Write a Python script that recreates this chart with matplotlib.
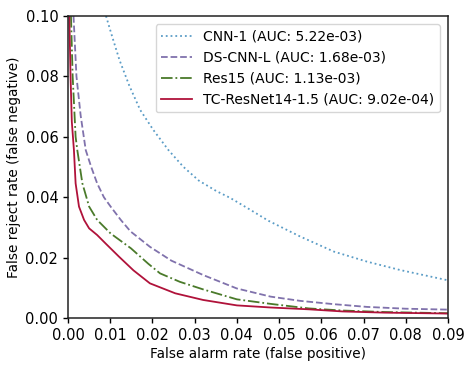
import numpy as np
import matplotlib
matplotlib.use('Agg')
import matplotlib.pyplot as plt

# curves (false alarm rate, false reject rate)
cnn_x = [0.0090, 0.0105, 0.0122, 0.0145, 0.0171, 0.0202, 0.0238, 0.0273, 0.0310,
         0.0352, 0.0384, 0.0430, 0.0475, 0.0550, 0.0630, 0.0708, 0.0787, 0.0900]
cnn_y = [0.100, 0.093, 0.0854, 0.077, 0.0689, 0.0623, 0.0556, 0.0501, 0.0455,
         0.0420, 0.0398, 0.0360, 0.0322, 0.0270, 0.0220, 0.0187, 0.0159, 0.0125]

ds_x = [0.0013, 0.0020, 0.0030, 0.0042, 0.0055, 0.0069, 0.0085, 0.0101, 0.0125,
        0.0148, 0.0194, 0.0245, 0.0321, 0.0400, 0.0480, 0.0550, 0.0630, 0.0708,
        0.0800, 0.0900]
ds_y = [0.100, 0.080, 0.067, 0.0556, 0.050, 0.0446, 0.040, 0.0369, 0.0325,
        0.0287, 0.0236, 0.019, 0.0142, 0.0098, 0.0071, 0.0057, 0.0046, 0.0037,
        0.0031, 0.0028]

res_x = [0.0007, 0.0011, 0.0018, 0.0022, 0.0034, 0.0050, 0.0069, 0.0101, 0.0149,
         0.0190, 0.0218, 0.0265, 0.0320, 0.0400, 0.0480, 0.0570, 0.0650, 0.0750,
         0.0900]
res_y = [0.100, 0.080, 0.060, 0.0556, 0.0446, 0.0369, 0.0325, 0.028, 0.0231,
         0.0180, 0.0148, 0.012, 0.0095, 0.0062, 0.0047, 0.0032, 0.0025, 0.0020,
         0.0016]

tc_x = [0.0003, 0.0006, 0.0009, 0.0014, 0.0018, 0.0026, 0.0038, 0.0050, 0.0069,
        0.0089, 0.0121, 0.0155, 0.0194, 0.0254, 0.0320, 0.0400, 0.0480, 0.0570,
        0.0650, 0.0750, 0.0900]
tc_y = [0.100, 0.080, 0.065, 0.0556, 0.0446, 0.0369, 0.0325, 0.0297, 0.0275,
        0.0247, 0.0203, 0.0158, 0.0115, 0.0082, 0.0060, 0.0042, 0.0035, 0.0029,
        0.0022, 0.0018, 0.0015]

labels = ['CNN-1 (AUC: 5.22e-03)', 'DS-CNN-L (AUC: 1.68e-03)',
          'Res15 (AUC: 1.13e-03)', 'TC-ResNet14-1.5 (AUC: 9.02e-04)']

fig = plt.figure(figsize=(4.74, 3.69), dpi=100)
ax = fig.add_axes([0.1435, 0.138, 0.8015, 0.8186])

ax.plot(cnn_x, cnn_y, color='#5a9cc6', linestyle=':', linewidth=1.3, label=labels[0])
ax.plot(ds_x, ds_y, color='#8072ac', linestyle='--', linewidth=1.3, label=labels[1])
ax.plot(res_x, res_y, color='#4a7a2a', linestyle='-.', linewidth=1.3, label=labels[2])
ax.plot(tc_x, tc_y, color='#b0123a', linestyle='-', linewidth=1.3, label=labels[3])

ax.set_xlim(0, 0.09)
ax.set_ylim(0, 0.10)
ax.set_xticks(np.arange(0, 0.0901, 0.01))
ax.set_yticks(np.arange(0, 0.1001, 0.02))
ax.xaxis.set_major_formatter(matplotlib.ticker.FormatStrFormatter('%.2f'))
ax.yaxis.set_major_formatter(matplotlib.ticker.FormatStrFormatter('%.2f'))
ax.tick_params(labelsize=10.5, length=3.5, width=1)
for s in ax.spines.values():
    s.set_linewidth(1.1)
    s.set_color('#222222')

ax.set_xlabel('False alarm rate (false positive)', fontsize=9.8, labelpad=3)
ax.set_ylabel('False reject rate (false negative)', fontsize=9.8, labelpad=3)
ax.legend(loc='upper right', fontsize=10, handlelength=2.2, borderaxespad=0.6)

fig.savefig('out.png', dpi=100)
